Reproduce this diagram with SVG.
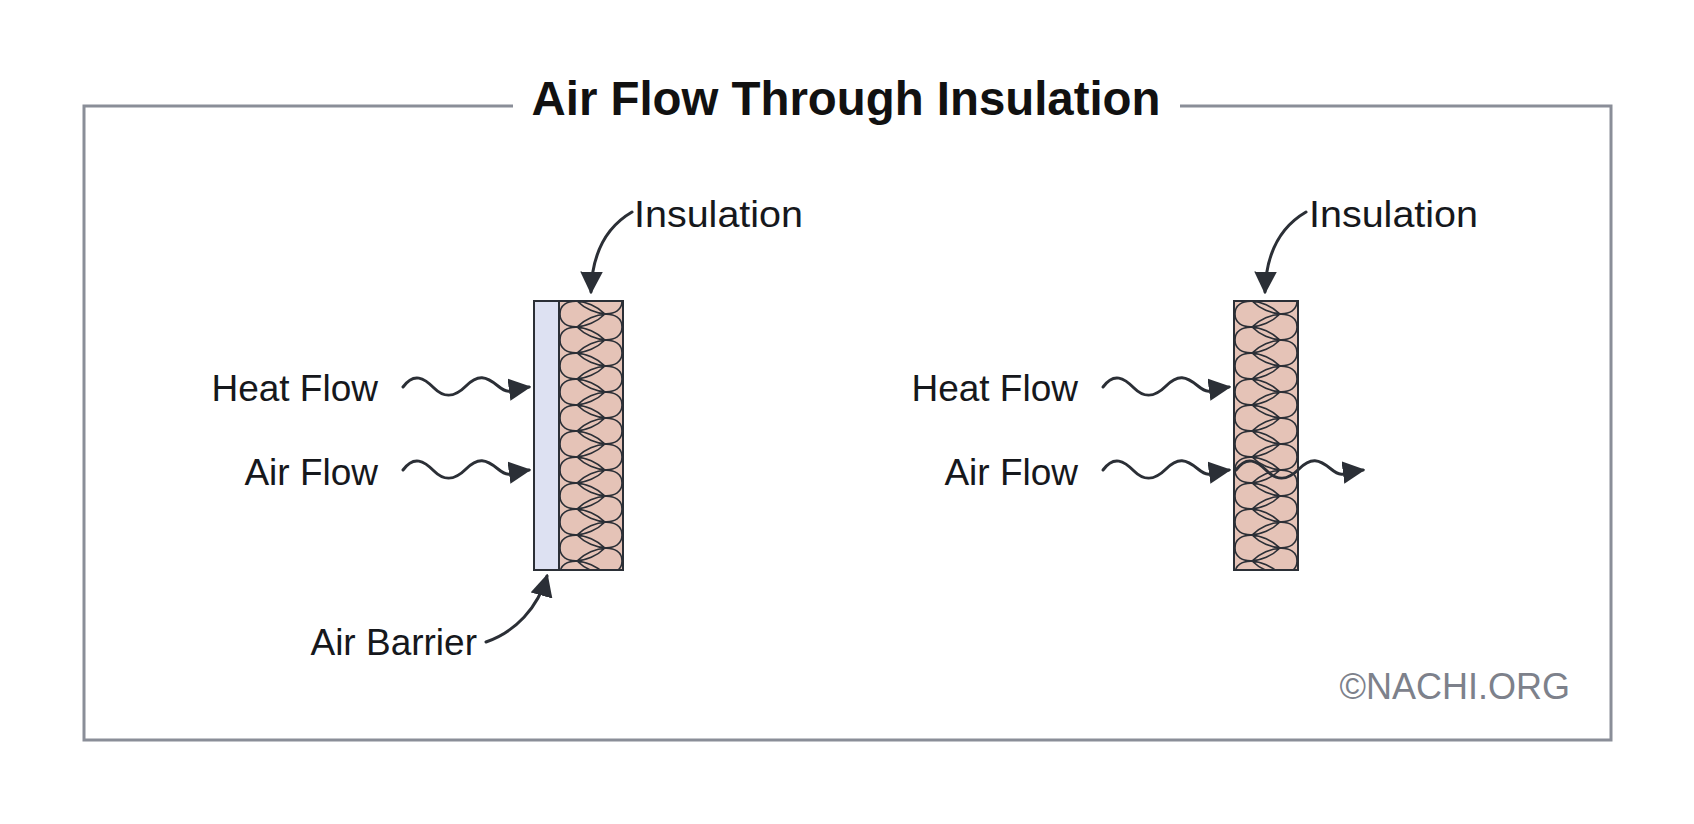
<svg xmlns="http://www.w3.org/2000/svg" width="1694" height="824" viewBox="0 0 1694 824">
<style>
.t{font-family:"Liberation Sans",Arial,sans-serif;font-size:37px;fill:#16181c}
.w{fill:none;stroke:#2b2f36;stroke-width:3;stroke-linecap:round}
</style>
<defs>
<marker id="ah" viewBox="0 0 10 10" refX="9" refY="5" markerWidth="7.5" markerHeight="7.5" markerUnits="strokeWidth" orient="auto"><path d="M0,0L10,5L0,10z" fill="#2b2f36"/></marker>
<g id="tile">
<rect width="64" height="26" fill="#e5c3b7"/>
<path d="M46,13 C30,-3 1,-5 1,13 C1,31 30,29 46,13 M18,26 C34,10 63,8 63,26 C63,44 34,42 18,26 M18,0 C34,-16 63,-18 63,0 C63,18 34,16 18,0" fill="none" stroke="#2b2f36" stroke-width="1.6"/>
</g>
<pattern id="batt" x="559" y="301" width="64" height="26" patternUnits="userSpaceOnUse"><use href="#tile"/></pattern>
<pattern id="batt2" x="1234" y="301" width="64" height="26" patternUnits="userSpaceOnUse"><use href="#tile"/></pattern>
</defs>
<rect width="1694" height="824" fill="#fff"/>
<g id="frame">
<path d="M513,106 H84 V740 H1611 V106 H1180" fill="none" stroke="#8a8e98" stroke-width="3"/>
<text x="846" y="115" text-anchor="middle" style="font-family:'Liberation Sans',Arial,sans-serif;font-size:48px;font-weight:bold;fill:#111" textLength="629" lengthAdjust="spacingAndGlyphs">Air Flow Through Insulation</text>
</g>
<g id="left-wall">
<rect x="534" y="301" width="25" height="269" fill="#dde1f2" stroke="#2b2f36" stroke-width="2"/>
<rect x="559" y="301" width="64" height="269" fill="url(#batt)" stroke="#2b2f36" stroke-width="2"/>
</g>
<g id="right-wall">
<rect x="1234" y="301" width="64" height="269" fill="url(#batt2)" stroke="#2b2f36" stroke-width="2"/>
</g>
<g id="labels">
<text class="t" x="634" y="227" textLength="169" lengthAdjust="spacingAndGlyphs">Insulation</text>
<text class="t" x="1309" y="227" textLength="169" lengthAdjust="spacingAndGlyphs">Insulation</text>
<text class="t" x="378" y="401" text-anchor="end">Heat Flow</text>
<text class="t" x="378" y="485" text-anchor="end">Air Flow</text>
<text class="t" x="1078" y="401" text-anchor="end">Heat Flow</text>
<text class="t" x="1078" y="485" text-anchor="end">Air Flow</text>
<text class="t" x="477" y="655" text-anchor="end">Air Barrier</text>
<text x="1570" y="699" text-anchor="end" style="font-family:'Liberation Sans',Arial,sans-serif;font-size:36px;fill:#7d818b">©NACHI.ORG</text>
</g>
<g id="connectors">
<path class="w" marker-end="url(#ah)" d="M632,212 C608,226 592,252 591,292"/>
<path class="w" marker-end="url(#ah)" d="M1306,212 C1282,226 1266,252 1265,292"/>
<path class="w" marker-end="url(#ah)" d="M486,642 C515,632 538,608 547,576"/>
<path class="w" marker-end="url(#ah)" d="M403,387 C414,372 424,378 434,388 S454,398 466,386 S486,376 498,386 S514,389 529,387"/>
<path class="w" marker-end="url(#ah)" d="M403,470 C414,455 424,461 434,471 S454,481 466,469 S486,459 498,469 S514,472 529,470"/>
<path class="w" marker-end="url(#ah)" d="M1103,387 C1114,372 1124,378 1134,388 S1154,398 1166,386 S1186,376 1198,386 S1214,389 1229,387"/>
<path class="w" marker-end="url(#ah)" d="M1103,470 C1114,455 1124,461 1134,471 S1154,481 1166,469 S1186,459 1198,469 S1214,472 1229,470"/>
<path class="w" marker-end="url(#ah)" d="M1236,470 C1247,455 1257,461 1267,471 S1287,481 1299,469 S1319,459 1331,469 S1347,472 1363,470"/>
</g>
</svg>
